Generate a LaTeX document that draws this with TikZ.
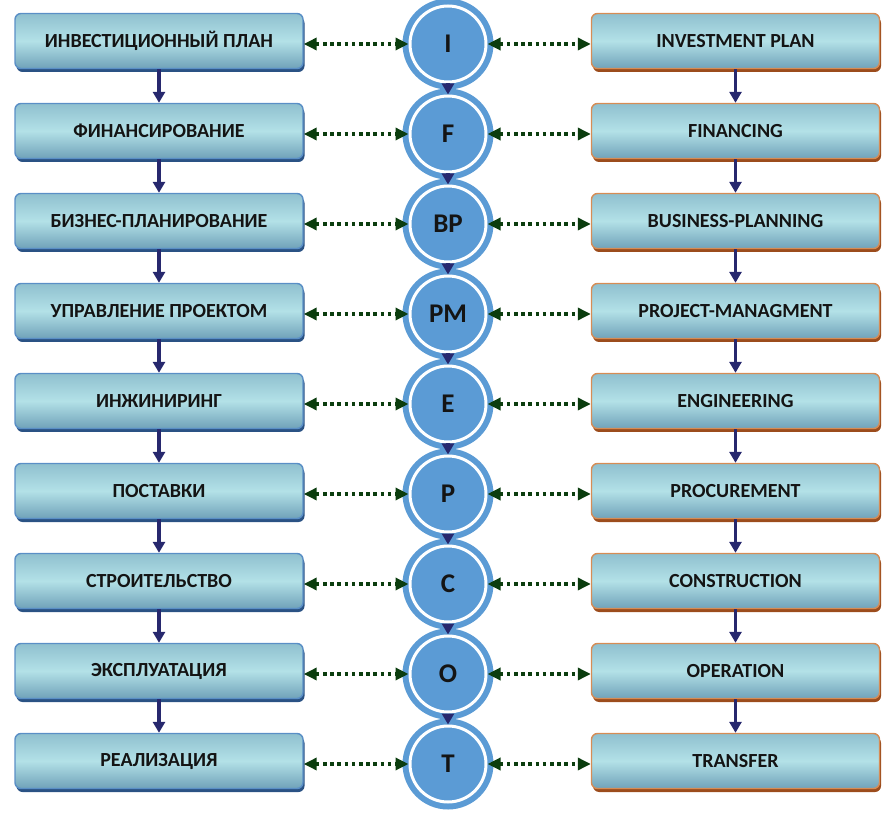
\documentclass[tikz,border=0pt]{standalone}
\usepackage{fontspec}
\setmainfont{Carlito}
\usetikzlibrary{arrows.meta,shadows}

\definecolor{boxtop}{HTML}{8FC0CF}
\definecolor{boxmid}{HTML}{B3E1E7}
\definecolor{boxbot}{HTML}{70A2B9}
\definecolor{rusedge}{HTML}{5A8FC6}
\definecolor{russhadow}{HTML}{2A5284}
\definecolor{engedge}{HTML}{D68C55}
\definecolor{engshadow}{HTML}{9C4C1C}
\definecolor{ringblue}{HTML}{5B9BD5}
\definecolor{flownavy}{HTML}{27286E}
\definecolor{linkgreen}{HTML}{0B3D0E}

\tikzset{
  stagebox/.style={rounded corners=6pt, minimum width=288pt, minimum height=55pt,
    top color=boxtop, bottom color=boxbot, middle color=boxmid, line width=1.4pt,
    font=\bfseries\fontsize{20}{24}\selectfont, text=black!92},
  rusbox/.style={stagebox, draw=rusedge,
    drop shadow={shadow xshift=1.5pt, shadow yshift=-3.5pt, fill=russhadow, opacity=1}},
  engbox/.style={stagebox, draw=engedge,
    drop shadow={shadow xshift=1.5pt, shadow yshift=-3.5pt, fill=engshadow, opacity=1}},
  stagecircle/.style={circle, minimum size=76pt, inner sep=0pt, fill=ringblue,
    draw=white, line width=3pt, preaction={draw=ringblue, line width=15pt},
    font=\bfseries\fontsize{27}{30}\selectfont, text=black!92},
  flow/.style={flownavy, line width=3.4pt, -{Triangle[length=11pt,width=12pt]}},
  link/.style={linkgreen, line width=4pt, dash pattern=on 3.6pt off 3.6pt,
    {Triangle[length=13pt,width=12pt]}-{Triangle[length=13pt,width=12pt]}}
}

\begin{document}
\begin{tikzpicture}[x=1pt,y=1pt]
\useasboundingbox (0,0) rectangle (895,-818);

% three columns of stages
\foreach \rus/\abbr/\eng [count=\i from 0] in {
  ИНВЕСТИЦИОННЫЙ ПЛАН/I/INVESTMENT PLAN,
  ФИНАНСИРОВАНИЕ/F/FINANCING,
  БИЗНЕС-ПЛАНИРОВАНИЕ/BP/BUSINESS-PLANNING,
  УПРАВЛЕНИЕ ПРОЕКТОМ/PM/PROJECT-MANAGMENT,
  ИНЖИНИРИНГ/E/ENGINEERING,
  ПОСТАВКИ/P/PROCUREMENT,
  СТРОИТЕЛЬСТВО/C/CONSTRUCTION,
  ЭКСПЛУАТАЦИЯ/O/OPERATION,
  РЕАЛИЗАЦИЯ/T/TRANSFER}{
  \node[rusbox] (rus\i) at (159,-41-90*\i) {\rus};
  \node[stagecircle] (abbr\i) at (448,-44-90*\i) {\abbr};
  \node[engbox] (eng\i) at (735.5,-41-90*\i) {\eng};
}

% downward flow
\foreach \i [evaluate=\i as \j using int(\i+1)] in {0,...,7}{
  \draw[flow] (rus\i.south) -- (rus\j.north);
  \draw[flow] (abbr\i.south) -- (abbr\j.north);
  \draw[flow] (eng\i.south) -- (eng\j.north);
}

% dotted links to the circles
\foreach \i in {0,...,8}{
  \draw[link] (rus\i.east |- abbr\i.west) -- (abbr\i.west);
  \draw[link] (abbr\i.east) -- (eng\i.west |- abbr\i.east);
}
\end{tikzpicture}
\end{document}
